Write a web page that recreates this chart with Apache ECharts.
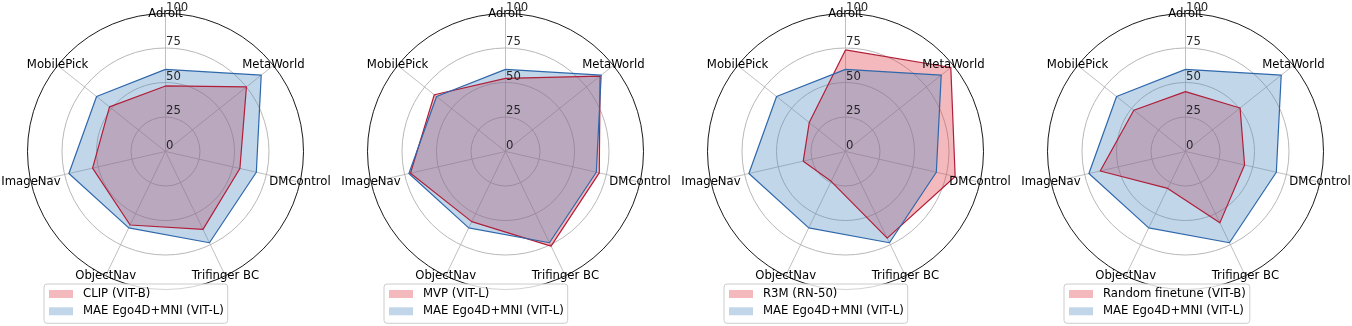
<!DOCTYPE html>
<html>
<head>
<meta charset="utf-8">
<script src="https://cdn.jsdelivr.net/npm/echarts@6/dist/echarts.min.js"></script>
<style>
  html, body { margin: 0; padding: 0; background: #fff; }
  #radar-chart { width: 1352px; height: 326px; }
</style>
</head>
<body>
<div id="radar-chart"></div>
<script>
// ejes en orden horario, empezando por arriba
const tareas = ["Adroit", "MetaWorld", "DMControl", "Trifinger BC", "ObjectNav", "ImageNav", "MobilePick"];
const ticksRadiales = [0, 25, 50, 75, 100];

// valores (mismo orden que tareas)
const maeEgo4d = [59.5, 88.7, 67.5, 73.4, 61.4, 71.8, 63.9];
const clipVitB = [47.5, 75.0, 55.3, 62.6, 59.1, 54.2, 51.9];
const mvpVitL = [53.0, 87.7, 69.7, 76.1, 56.4, 70.6, 66.0];
const r3mRn50 = [73.6, 97.6, 81.5, 69.7, 24.0, 31.4, 33.6];
const randomFinetune = [43.4, 50.6, 43.9, 57.4, 29.7, 63.4, 47.9];

const nombreMae = "MAE Ego4D+MNI (VIT-L)";
const nombresBase = ["CLIP (VIT-B)", "MVP (VIT-L)", "R3M (RN-50)", "Random finetune (VIT-B)"];
const valoresBase = [clipVitB, mvpVitL, r3mRn50, randomFinetune];

const FUENTE = "DejaVu Sans";
const CY = 151.5;
const RADIO = 138;
const centrosX = [165.5, 505.5, 845.5, 1185.5];
const legendLeft = [44, 384, 724, 1064];

const rojoLinea = "#b01e38";
const rojoRelleno = "rgba(224,55,66,0.35)";
const azulLinea = "#2e67aa";
const azulRelleno = "rgba(81,138,195,0.35)";

// echarts coloca los ejes del radar en sentido antihorario
const ordenRadar = [0, 6, 5, 4, 3, 2, 1];
const reordenar = (arr) => ordenRadar.map((i) => arr[i]);

function construirGrafica() {
  const chart = echarts.init(document.getElementById("radar-chart"));
  const radares = [];
  const series = [];
  const leyendas = [];
  const textos = [];

  centrosX.forEach((cx, k) => {
    radares.push({
      center: [cx, CY],
      radius: RADIO,
      startAngle: 90,
      splitNumber: 4,
      shape: "circle",
      indicator: ordenRadar.map((i) => ({ name: tareas[i], min: 0, max: 100 })),
      axisName: { show: false },
      axisLine: { lineStyle: { color: "#b0b0b0", width: 0.8 } },
      axisTick: { show: false },
      axisLabel: { show: false },
      splitArea: { show: false },
      splitLine: {
        lineStyle: {
          color: ["#b0b0b0", "#b0b0b0", "#b0b0b0", "#b0b0b0", "#000000"],
          width: 0.9,
        },
      },
    });

    // primero los rellenos, luego los contornos encima
    series.push({
      type: "radar",
      radarIndex: k,
      symbol: "none",
      silent: true,
      z: 2,
      data: [
        {
          name: nombresBase[k],
          value: reordenar(valoresBase[k]),
          itemStyle: { color: rojoLinea },
          lineStyle: { width: 0 },
          areaStyle: { color: rojoRelleno, opacity: 1 },
        },
        {
          name: nombreMae,
          value: reordenar(maeEgo4d),
          itemStyle: { color: azulLinea },
          lineStyle: { width: 0 },
          areaStyle: { color: azulRelleno, opacity: 1 },
        },
      ],
    });
    series.push({
      type: "radar",
      radarIndex: k,
      symbol: "none",
      silent: true,
      z: 3,
      data: [
        {
          name: nombresBase[k],
          value: reordenar(valoresBase[k]),
          itemStyle: { color: rojoLinea },
          lineStyle: { color: rojoLinea, width: 1.2 },
        },
        {
          name: nombreMae,
          value: reordenar(maeEgo4d),
          itemStyle: { color: azulLinea },
          lineStyle: { color: azulLinea, width: 1.2 },
        },
      ],
    });

    leyendas.push({
      orient: "vertical",
      left: legendLeft[k],
      top: 284,
      icon: "rect",
      itemWidth: 24,
      itemHeight: 8,
      itemGap: 3.3,
      padding: [3, 4, 5, 5],
      borderColor: "#cccccc",
      borderWidth: 1,
      borderRadius: 3,
      backgroundColor: "rgba(255,255,255,0.8)",
      selectedMode: false,
      textStyle: {
        fontFamily: FUENTE,
        fontSize: 11.7,
        lineHeight: 14,
        color: "#000",
        padding: [0, 0, 0, 5],
      },
      data: [
        { name: nombresBase[k], itemStyle: { color: rojoRelleno, borderWidth: 0 } },
        { name: nombreMae, itemStyle: { color: azulRelleno, borderWidth: 0 } },
      ],
    });

    // nombres de los ejes, centrados sobre el circulo exterior
    tareas.forEach((t, i) => {
      const ang = Math.PI / 2 - (i * 2 * Math.PI) / tareas.length;
      textos.push({
        type: "text",
        z: 100,
        silent: true,
        x: cx + RADIO * Math.cos(ang),
        y: CY - RADIO * Math.sin(ang),
        style: {
          text: t,
          fill: "#000",
          font: `11.7px "${FUENTE}"`,
          align: "center",
          verticalAlign: "middle",
        },
      });
    });

    // etiquetas radiales sobre el eje vertical
    ticksRadiales.forEach((v) => {
      textos.push({
        type: "text",
        z: 100,
        silent: true,
        x: cx + 0.5,
        y: CY - (v / 100) * RADIO - 6,
        style: {
          text: String(v),
          fill: "#262626",
          font: `11.7px "${FUENTE}"`,
          align: "left",
          verticalAlign: "middle",
        },
      });
    });
  });

  chart.setOption({
    animation: false,
    textStyle: { fontFamily: FUENTE },
    radar: radares,
    legend: leyendas,
    series: series,
    graphic: textos,
  });
}

document.addEventListener("DOMContentLoaded", construirGrafica);
</script>
</body>
</html>
